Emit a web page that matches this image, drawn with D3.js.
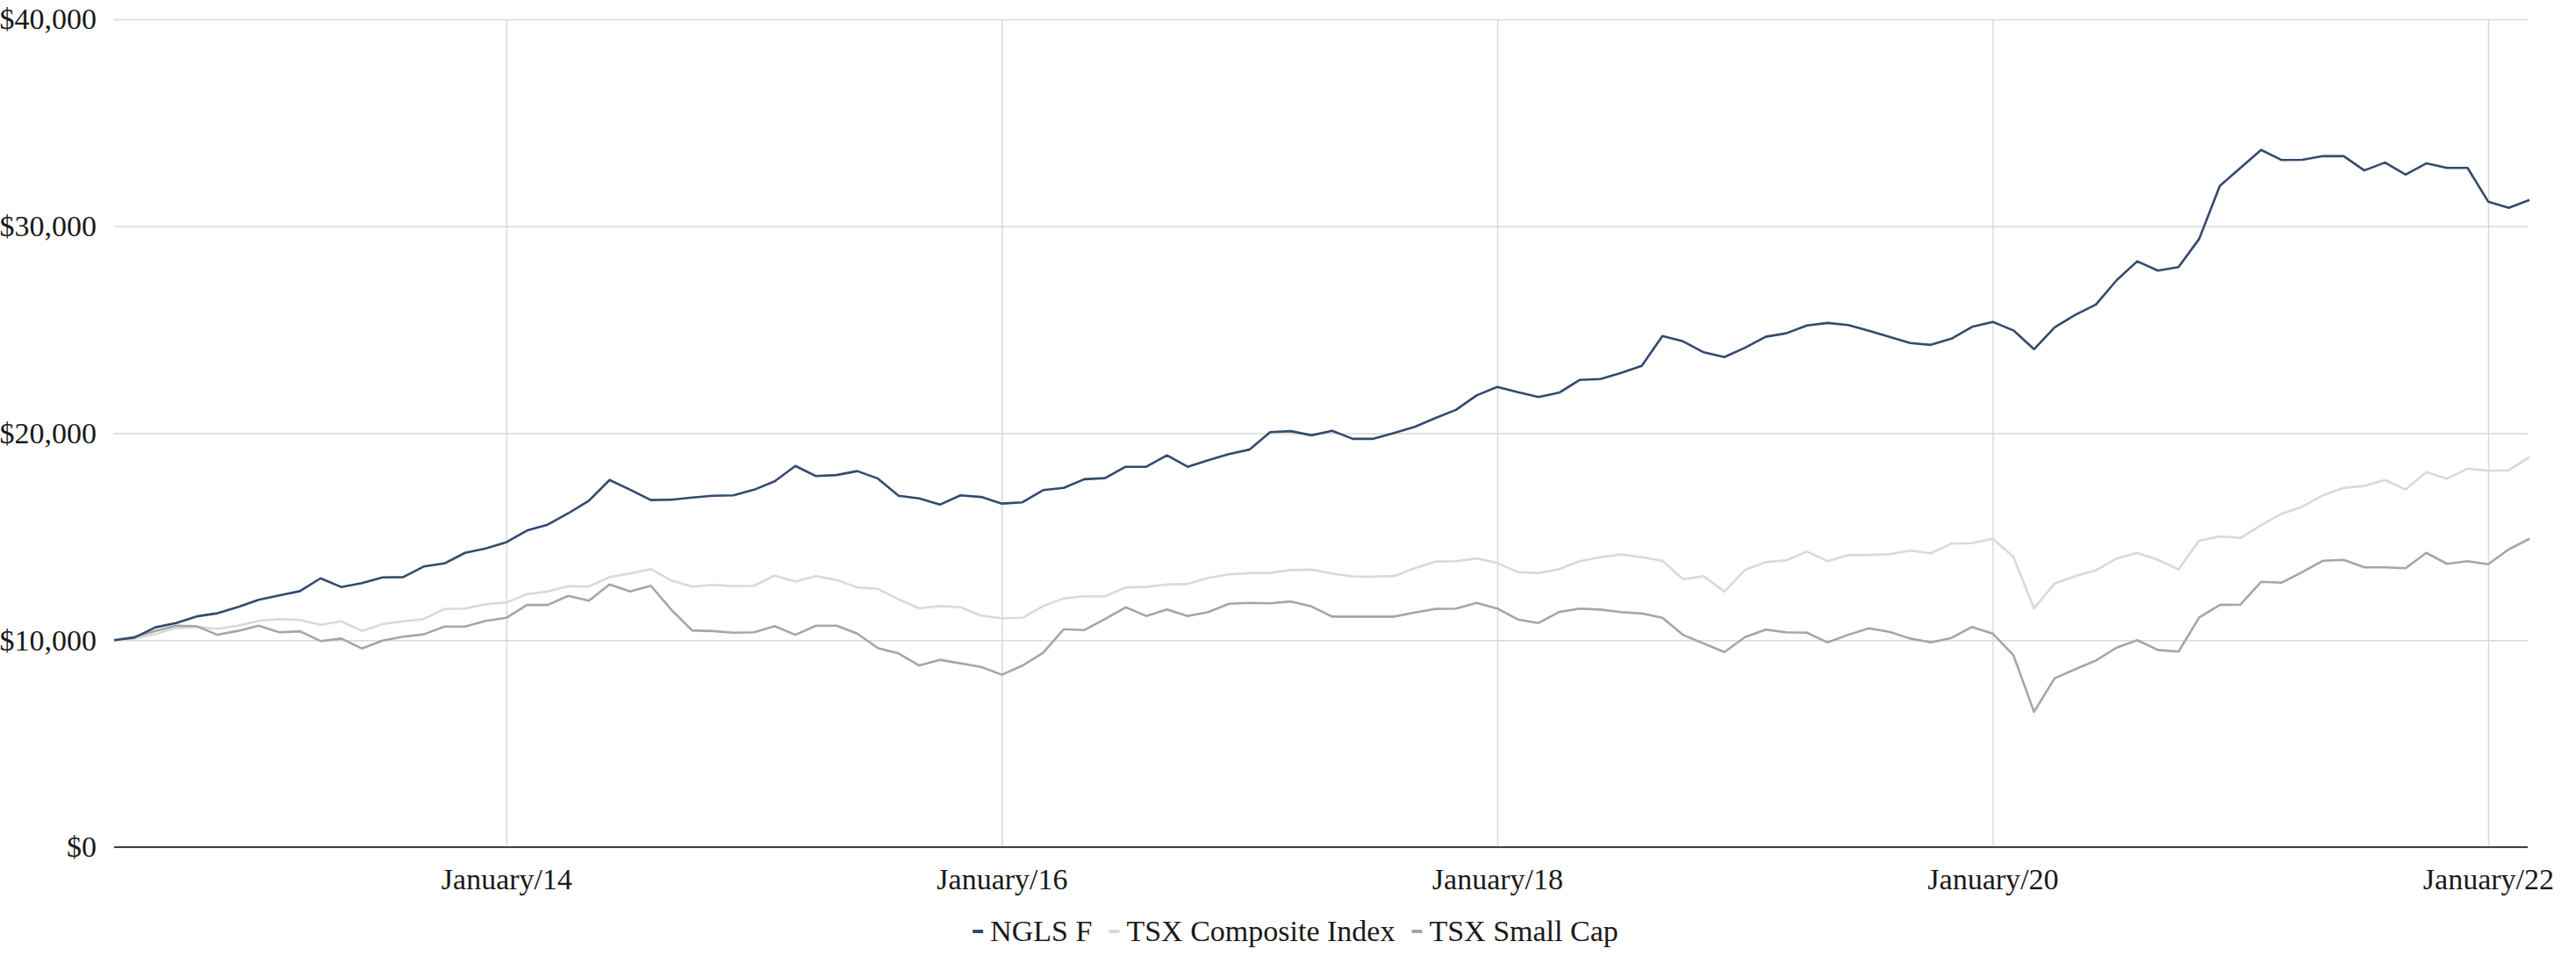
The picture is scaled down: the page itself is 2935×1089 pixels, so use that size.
<!DOCTYPE html>
<html>
<head>
<meta charset="utf-8">
<script src="https://cdn.jsdelivr.net/npm/d3@7"></script>
<style>
  html, body { margin: 0; padding: 0; background: #ffffff; }
  svg { display: block; }
</style>
</head>
<body>
<svg id="chart" width="2935" height="1089"></svg>
<script>
// ---------- DATA ----------
const firstMonth = "2012-06-01";
const lastMonth = "2022-03-01";
const tickMonths = ["2014-01-01", "2016-01-01", "2018-01-01", "2020-01-01", "2022-01-01"];
const tickLabels = ["January/14", "January/16", "January/18", "January/20", "January/22"];
const yTicks = [0, 10000, 20000, 30000, 40000];
const seriesNames = ["NGLS F", "TSX Composite Index", "TSX Small Cap"];
const seriesColors = ["#344a6e", "#d9d9d9", "#a6a6a6"];

const ngls = [
  10000,10130,10620,10830,11150,11300,11600,11950,12160,12370,
  12990,12570,12760,13030,13050,13560,13710,14220,14430,14730,
  15300,15580,16130,16740,17740,17270,16770,16790,16890,16980,
  17000,17270,17680,18420,17930,17980,18170,17810,16980,16850,
  16550,17000,16920,16600,16660,17250,17360,17780,17830,18380,
  18380,18930,18380,18700,18990,19210,20050,20100,19900,20120,
  19730,19730,20010,20310,20730,21130,21830,22240,21980,21750,
  21960,22580,22620,22920,23260,24700,24440,23910,23680,24130,
  24660,24830,25210,25330,25230,24950,24660,24360,24270,24570,
  25140,25380,24970,24060,25120,25720,26220,27390,28310,27860,
  28030,29390,31950,32820,33690,33200,33210,33390,33390,32700,
  33080,32500,33040,32820,32820,31190,30890,31270
];
const tsxComposite = [
  10000,10080,10300,10590,10640,10550,10700,10930,11020,10980,
  10740,10910,10450,10780,10910,11020,11510,11530,11740,11820,
  12230,12350,12610,12590,13050,13220,13440,12880,12590,12670,
  12610,12630,13120,12840,13100,12910,12550,12480,11970,11540,
  11650,11590,11190,11060,11080,11650,12020,12120,12120,12550,
  12570,12690,12720,13010,13180,13240,13250,13390,13410,13220,
  13080,13070,13100,13480,13800,13820,13950,13730,13290,13240,
  13440,13820,14010,14140,14010,13840,12950,13090,12350,13390,
  13770,13860,14280,13820,14110,14120,14160,14330,14200,14670,
  14690,14900,14030,11530,12740,13100,13380,13940,14220,13880,
  13420,14810,15010,14940,15560,16110,16450,17000,17360,17450,
  17740,17280,18120,17800,18290,18190,18210,18850
];
const tsxSmallCap = [
  10000,10170,10450,10700,10680,10260,10450,10700,10380,10430,
  9960,10080,9600,9980,10170,10280,10660,10660,10930,11080,
  11700,11700,12140,11910,12690,12350,12630,11460,10470,10440,
  10360,10380,10680,10260,10700,10700,10320,9620,9360,8780,
  9050,8880,8710,8330,8770,9390,10530,10490,11020,11590,
  11170,11480,11170,11360,11760,11800,11780,11870,11630,11140,
  11140,11140,11140,11340,11510,11530,11800,11530,11000,10830,
  11360,11530,11480,11360,11290,11080,10250,9840,9430,10150,
  10510,10380,10360,9890,10260,10570,10400,10080,9890,10110,
  10640,10320,9280,6540,8160,8600,9020,9640,10000,9530,
  9450,11100,11700,11720,12820,12780,13290,13840,13880,13520,
  13520,13480,14220,13690,13820,13670,14390,14900
];

// ---------- CHART ----------
const parse = d3.timeParse("%Y-%m-%d");
const months = d3.timeMonth.range(parse(firstMonth), d3.timeMonth.offset(parse(lastMonth), 1));
const series = [ngls, tsxComposite, tsxSmallCap];

const plotLeft = 130, plotRight = 2882, plotTop = 22, plotBottom = 965, gridRight = 2880;
const FONT = "'Liberation Serif', 'Times New Roman', serif";

const svg = d3.select("#chart");

const x = d3.scalePoint()
  .domain(months.map(d => +d))
  .range([plotLeft, plotRight]);

const y = d3.scaleLinear()
  .domain([0, 40000])
  .range([plotBottom, plotTop]);

// horizontal gridlines + y labels
const yAxis = svg.append("g")
  .attr("transform", `translate(${plotLeft},0)`)
  .call(d3.axisLeft(y)
    .tickValues(yTicks)
    .tickSize(-(gridRight - plotLeft))
    .tickPadding(20)
    .tickFormat(d => "$" + d3.format(",")(d)));
yAxis.select(".domain").remove();
yAxis.selectAll(".tick line")
  .attr("stroke", "#d9d9d9")
  .attr("stroke-width", 1.5);
yAxis.selectAll(".tick text")
  .attr("font-family", FONT)
  .attr("font-size", 34)
  .attr("fill", "#1a1a1a");

// vertical gridlines + x labels
const tickDates = tickMonths.map(s => +parse(s));
const xAxis = svg.append("g")
  .attr("transform", `translate(0,${plotBottom})`)
  .call(d3.axisBottom(x)
    .tickValues(tickDates)
    .tickSize(-(plotBottom - plotTop))
    .tickPadding(24)
    .tickFormat((d, i) => tickLabels[i]));
xAxis.select(".domain").remove();
xAxis.selectAll(".tick line")
  .attr("stroke", "#d9d9d9")
  .attr("stroke-width", 1.5);
xAxis.selectAll(".tick text")
  .attr("font-family", FONT)
  .attr("font-size", 34)
  .attr("fill", "#1a1a1a");

// baseline at $0
svg.append("line")
  .attr("x1", plotLeft).attr("x2", gridRight)
  .attr("y1", y(0)).attr("y2", y(0))
  .attr("stroke", "#404040")
  .attr("stroke-width", 2);

// lines (draw light ones first)
const line = d3.line()
  .x((d, i) => x(+months[i]))
  .y(d => y(d));

[1, 2, 0].forEach(k => {
  svg.append("path")
    .datum(series[k])
    .attr("fill", "none")
    .attr("stroke", seriesColors[k])
    .attr("stroke-width", 2.6)
    .attr("stroke-linejoin", "round")
    .attr("d", line);
});

// legend
const legend = svg.append("g");
let cx = 0;
seriesNames.forEach((name, k) => {
  const g = legend.append("g");
  g.append("rect")
    .attr("x", 0).attr("y", -13)
    .attr("width", 12).attr("height", 4)
    .attr("fill", seriesColors[k]);
  const t = g.append("text")
    .attr("x", 20).attr("y", 0)
    .attr("font-family", FONT)
    .attr("font-size", 34)
    .attr("fill", "#1a1a1a")
    .text(name);
  const w = 20 + t.node().getComputedTextLength();
  g.attr("transform", `translate(${cx},0)`);
  cx += w + 19;
});
const totalW = cx - 19;
legend.attr("transform", `translate(${1476 - totalW / 2},1072)`);
</script>
</body>
</html>
